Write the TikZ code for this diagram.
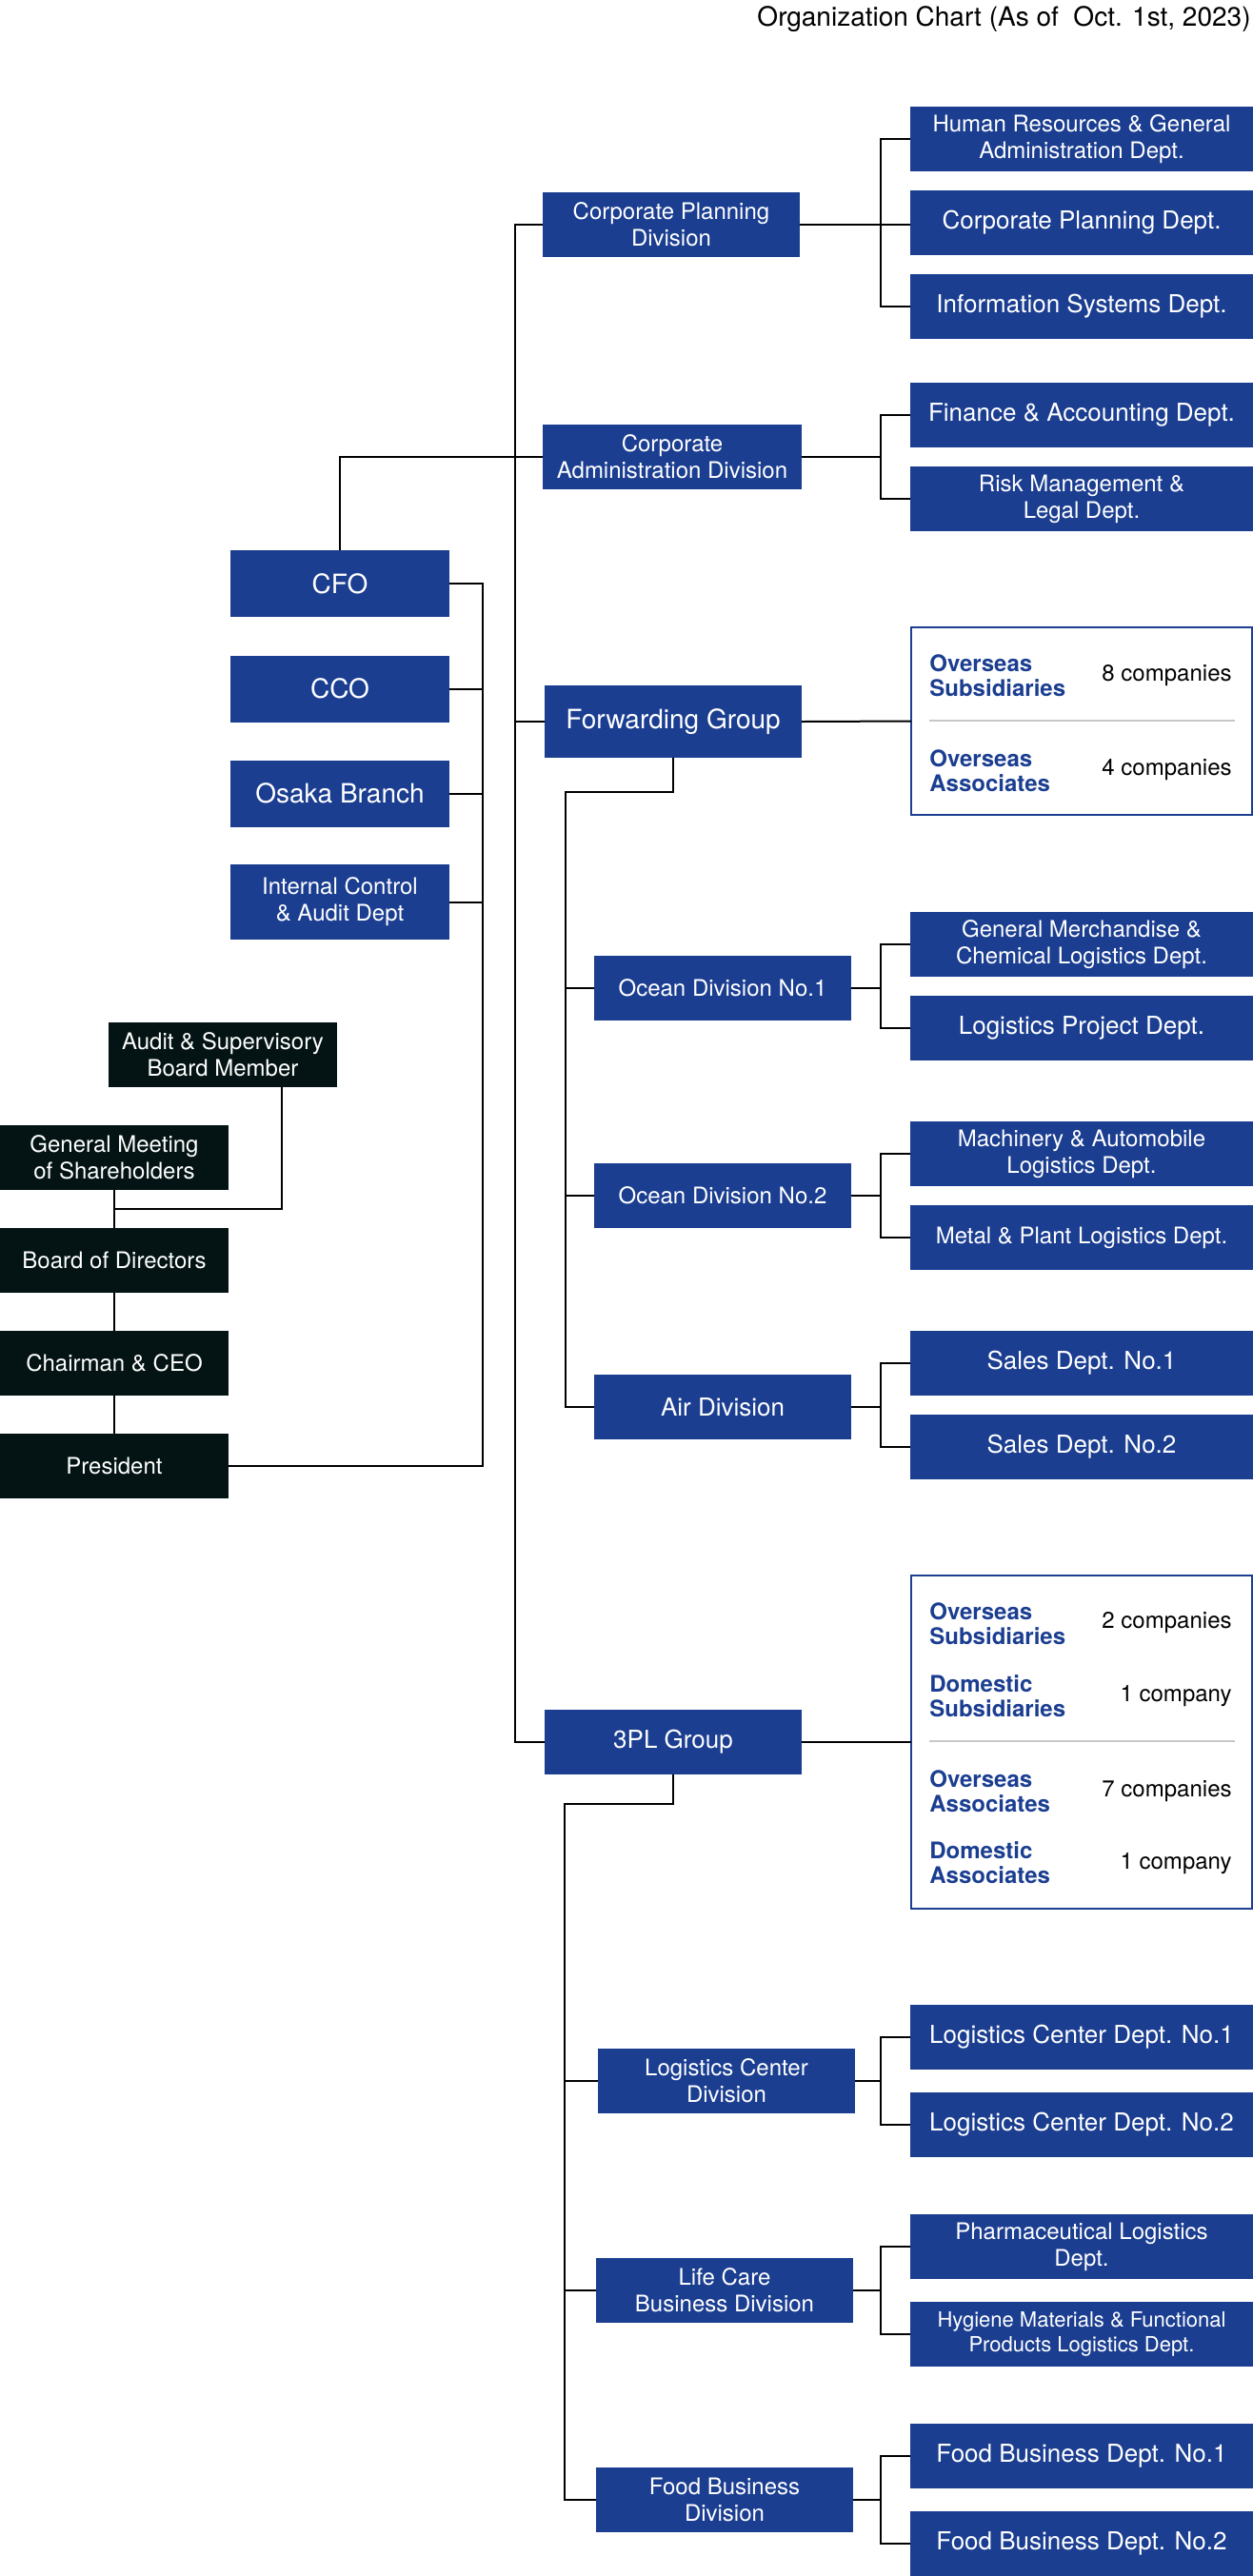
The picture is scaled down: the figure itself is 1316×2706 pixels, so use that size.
\documentclass[tikz,border=0pt]{standalone}
\usepackage{fontspec}
\setmainfont{TeX Gyre Heros}
\usetikzlibrary{calc}
\definecolor{nblue}{RGB}{27,62,145}
\definecolor{nblack}{RGB}{4,20,20}
\definecolor{sepgray}{RGB}{200,200,200}
\tikzset{
  box/.style={rectangle, inner sep=0pt, outer sep=0pt, align=center, text=white},
  bb/.style={box, fill=nblue},
  kb/.style={box, fill=nblack},
  fA/.style={font=\fontsize{12}{14}\selectfont},
  fB/.style={font=\fontsize{13}{14}\selectfont},
  fC/.style={font=\fontsize{14}{14}\selectfont},
  fD/.style={font=\fontsize{11}{13}\selectfont},
  dept/.style={bb, minimum width=180pt, minimum height=34pt},
  divbox/.style={bb, minimum width=135pt, minimum height=34pt},
  leftbox/.style={bb, minimum width=115pt, minimum height=35pt},
  blackbox/.style={kb, fA, minimum width=120pt, minimum height=34pt},
  conn/.style={draw=black, line width=1pt},
  infobox/.style={rectangle, draw=nblue, line width=1pt, fill=white, minimum width=179pt, inner sep=0pt, outer sep=0pt},
  infolabel/.style={anchor=west, align=left, inner sep=0pt, text=nblue, font=\fontsize{12}{13}\selectfont\bfseries},
  infovalue/.style={anchor=east, inner sep=0pt, text=black, font=\fontsize{12}{13}\selectfont},
  sepline/.style={draw=sepgray, line width=1pt}
}
\begin{document}
\begin{tikzpicture}[x=0.5pt, y=-0.5pt]
\useasboundingbox (0,0) rectangle (1316,2706);

% title
\node[anchor=base east, inner sep=0pt, font=\fontsize{14}{16}\selectfont] (title) at (1314,27) {Organization Chart (As of\ \ Oct. 1st, 2023)};

% department column
\node[dept, fA] (hr)  at (1136,146) {Human Resources \& General\\Administration Dept.};
\node[dept, fB] (cpd) at (1136,234) {Corporate Planning Dept.};
\node[dept, fB] (isd) at (1136,322) {Information Systems Dept.};
\node[dept, fB] (fad) at (1136,436) {Finance \& Accounting Dept.};
\node[dept, fA] (rmd) at (1136,524) {Risk Management \&\\Legal Dept.};
\node[dept, fA] (gmd) at (1136,992) {General Merchandise \&\\Chemical Logistics Dept.};
\node[dept, fB] (lpd) at (1136,1080) {Logistics Project Dept.};
\node[dept, fA] (mad) at (1136,1212) {Machinery \& Automobile\\Logistics Dept.};
\node[dept, fA] (mpd) at (1136,1300) {Metal \& Plant Logistics Dept.};
\node[dept, fB] (sd1) at (1136,1432) {Sales Dept. No.1};
\node[dept, fB] (sd2) at (1136,1520) {Sales Dept. No.2};
\node[dept, fB] (lc1) at (1136,2140) {Logistics Center Dept. No.1};
\node[dept, fB] (lc2) at (1136,2232) {Logistics Center Dept. No.2};
\node[dept, fA] (ph)  at (1136,2360) {Pharmaceutical Logistics\\Dept.};
\node[dept, fD] (hy)  at (1136,2452) {Hygiene Materials \& Functional\\Products Logistics Dept.};
\node[dept, fB] (fd1) at (1136,2580) {Food Business Dept. No.1};
\node[dept, fB] (fd2) at (1136,2672) {Food Business Dept. No.2};

% division column
\node[divbox, fA] (cpdiv) at (705,236) {Corporate Planning\\Division};
\node[divbox, fA, minimum width=136pt] (cadiv) at (706,480) {Corporate\\Administration Division};
\node[divbox, fC, minimum height=38pt] (fg) at (707,758) {Forwarding Group};
\node[divbox, fA] (od1) at (759,1038) {Ocean Division No.1};
\node[divbox, fA] (od2) at (759,1256) {Ocean Division No.2};
\node[divbox, fB] (air) at (759,1478) {Air Division};
\node[divbox, fB] (pl3) at (707,1830) {3PL Group};
\node[divbox, fA] (lcdiv) at (763,2186) {Logistics Center\\Division};
\node[divbox, fA] (lcb) at (761,2406) {Life Care\\Business Division};
\node[divbox, fA] (fbd) at (761,2626) {Food Business\\Division};

% officers column
\node[leftbox, fC] (cfo) at (357,613) {CFO};
\node[leftbox, fC] (cco) at (357,723.5) {CCO};
\node[leftbox, fC] (osaka) at (357,833.5) {Osaka Branch};
\node[leftbox, fA, minimum height=39.5pt] (icad) at (357,947.5) {Internal Control\\\& Audit Dept};

% governance column
\node[blackbox] (audit) at (234,1108) {Audit \& Supervisory\\Board Member};
\node[blackbox] (gms) at (120,1216) {General Meeting\\of Shareholders};
\node[blackbox] (bod) at (120,1324) {Board of Directors};
\node[blackbox] (ceo) at (120,1432) {Chairman \& CEO};
\node[blackbox] (pres) at (120,1540) {President};

% info boxes
\node[infobox, minimum height=98.5pt] (fginfo) at (1136,757.5) {};
\draw[sepline] (976,757) -- (1297,757);
\node[infolabel] (fgl1) at (976,709.5) {Overseas\\Subsidiaries};
\node[infovalue] (fgv1) at (1294,710) {8 companies};
\node[infolabel] (fgl2) at (976,809.5) {Overseas\\Associates};
\node[infovalue] (fgv2) at (1294,809) {4 companies};

\node[infobox, minimum height=175pt] (plinfo) at (1136,1830) {};
\draw[sepline] (976,1829) -- (1297,1829);
\node[infolabel] (pll1) at (976,1705.3) {Overseas\\Subsidiaries};
\node[infovalue] (plv1) at (1294,1705) {2 companies};
\node[infolabel] (pll2) at (976,1781.3) {Domestic\\Subsidiaries};
\node[infovalue] (plv2) at (1294,1781.5) {1 company};
\node[infolabel] (pll3) at (976,1881.3) {Overseas\\Associates};
\node[infovalue] (plv3) at (1294,1881.5) {7 companies};
\node[infolabel] (pll4) at (976,1957) {Domestic\\Associates};
\node[infovalue] (plv4) at (1294,1957.5) {1 company};

% helper coordinates
\coordinate (bx) at (925,0);
\coordinate (tx) at (540.5,0);
\coordinate (lx) at (507,0);
\coordinate (aj) at (296,1270);
\coordinate (fk) at (594,832);
\coordinate (pk) at (593,1895);

% division -> department brackets
\draw[conn] (cpdiv.east) -- (cpdiv.east -| cpd.west);
\draw[conn] (hr.west) -- (hr.west -| bx) -- (isd.west -| bx) -- (isd.west);
\draw[conn] (cadiv.east) -- (cadiv.east -| bx);
\draw[conn] (fad.west) -- (fad.west -| bx) -- (rmd.west -| bx) -- (rmd.west);
\draw[conn] (od1.east) -- (od1.east -| bx);
\draw[conn] (gmd.west) -- (gmd.west -| bx) -- (lpd.west -| bx) -- (lpd.west);
\draw[conn] (od2.east) -- (od2.east -| bx);
\draw[conn] (mad.west) -- (mad.west -| bx) -- (mpd.west -| bx) -- (mpd.west);
\draw[conn] (air.east) -- (air.east -| bx);
\draw[conn] (sd1.west) -- (sd1.west -| bx) -- (sd2.west -| bx) -- (sd2.west);
\draw[conn] (lcdiv.east) -- (lcdiv.east -| bx);
\draw[conn] (lc1.west) -- (lc1.west -| bx) -- (lc2.west -| bx) -- (lc2.west);
\draw[conn] (lcb.east) -- (lcb.east -| bx);
\draw[conn] (ph.west) -- (ph.west -| bx) -- (hy.west -| bx) -- (hy.west);
\draw[conn] (fbd.east) -- (fbd.east -| bx);
\draw[conn] (fd1.west) -- (fd1.west -| bx) -- (fd2.west -| bx) -- (fd2.west);

% main trunk
\draw[conn] (cpdiv.west) -- (cpdiv.west -| tx) -- (pl3.west -| tx) -- (pl3.west);
\draw[conn] (cfo.north) |- (cadiv.west);
\draw[conn] (fg.west) -- (fg.west -| tx);

% officers bracket to president
\draw[conn] (cfo.east) -- (cfo.east -| lx) -- (pres.east -| lx) -- (pres.east);
\draw[conn] (cco.east) -- (cco.east -| lx);
\draw[conn] (osaka.east) -- (osaka.east -| lx);
\draw[conn] (icad.east) -- (icad.east -| lx);

% governance chain
\draw[conn] (audit.south -| aj) -- (aj) -- (aj -| gms.south);
\draw[conn] (gms.south) -- (bod.north);
\draw[conn] (bod.south) -- (ceo.north);
\draw[conn] (ceo.south) -- (pres.north);

% forwarding group
\draw[conn] (fg.east) -- (fginfo.west);
\draw[conn] (fg.south) |- (fk) -- (fk |- air.west) -- (air.west);
\draw[conn] (od1.west) -- (od1.west -| fk);
\draw[conn] (od2.west) -- (od2.west -| fk);

% 3PL group
\draw[conn] (pl3.east) -- (plinfo.west);
\draw[conn] (pl3.south) |- (pk) -- (pk |- fbd.west) -- (fbd.west);
\draw[conn] (lcdiv.west) -- (lcdiv.west -| pk);
\draw[conn] (lcb.west) -- (lcb.west -| pk);
\end{tikzpicture}
\end{document}
